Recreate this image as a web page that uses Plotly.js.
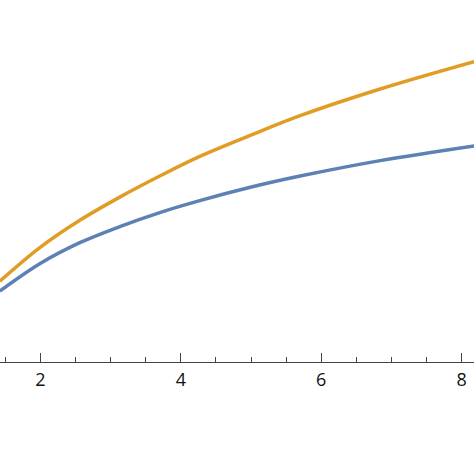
<!DOCTYPE html>
<html>
<head>
<meta charset="utf-8">
<script src="https://cdn.plot.ly/plotly-3.0.1.min.js"></script>
<style>
  html, body { margin: 0; padding: 0; background: #fff; }
  #graphique { width: 474px; height: 474px; }
</style>
</head>
<body>
<div id="graphique"></div>
<script>
// valeurs
var xVals = [1.42, 1.99, 2.56, 3.13, 3.70, 4.27, 4.99, 5.70, 6.84, 8.18];
var courbeBleue = [1.01, 1.40, 1.70, 1.93, 2.13, 2.30, 2.49, 2.65, 2.87, 3.08];
var courbeOrange = [1.15, 1.63, 2.02, 2.35, 2.65, 2.93, 3.23, 3.51, 3.89, 4.28];
var ticksX = [2, 4, 6, 8];

document.addEventListener('DOMContentLoaded', function() {
    creerGraphique();
});

function creerGraphique() {
    var traceBleue = {
        x: xVals,
        y: courbeBleue,
        mode: 'lines',
        line: { color: '#5E81B5', width: 3.5, shape: 'spline', smoothing: 1 },
        showlegend: false
    };

    var traceOrange = {
        x: xVals,
        y: courbeOrange,
        mode: 'lines',
        line: { color: '#E19C24', width: 3.5, shape: 'spline', smoothing: 1 },
        showlegend: false
    };

    var layout = {
        width: 474,
        height: 474,
        xaxis: {
            range: [1.4228, 8.1778],
            tickvals: ticksX,
            ticktext: ticksX.map(String),
            ticks: 'inside',
            ticklen: 9,
            tickwidth: 1,
            tickcolor: '#444',
            showline: true,
            linecolor: '#444',
            linewidth: 1,
            showgrid: false,
            zeroline: false,
            tickfont: { family: 'Open Sans', size: 18, color: '#111' },
            ticklabelstandoff: 1,
            minor: { dtick: 0.5, ticks: 'inside', ticklen: 5, tickcolor: '#444', tickwidth: 1, showgrid: false }
        },
        yaxis: {
            range: [0, 5.159],
            visible: false
        },
        plot_bgcolor: '#ffffff',
        paper_bgcolor: '#ffffff',
        margin: { t: 0, b: 112, l: 0, r: 0 }
    };

    Plotly.newPlot('graphique', [traceBleue, traceOrange], layout, { staticPlot: true });
}
</script>
</body>
</html>
